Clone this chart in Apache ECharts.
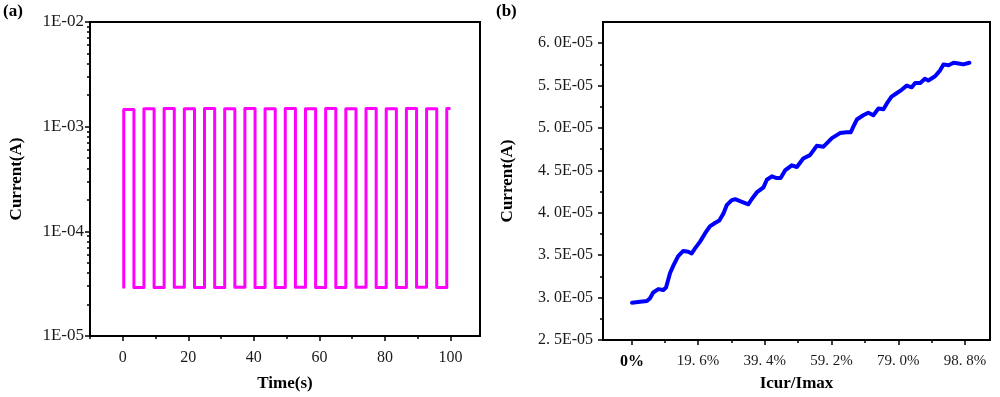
<!DOCTYPE html>
<html><head><meta charset="utf-8">
<script src="https://cdn.jsdelivr.net/npm/echarts@6/dist/echarts.min.js"></script>
<style>html,body{margin:0;padding:0;background:#fff}#c{width:1000px;height:397px}</style>
</head><body><div id="c"></div>
<script>
// ---------- Panel (a): switching current vs time ----------
const riseTimesA = [0.3, 6.46, 12.62, 18.78, 24.94, 31.1, 37.26, 43.42, 49.58, 55.74, 61.9, 68.06, 74.22, 80.38, 86.54, 92.7, 98.86];
const fallTimesA = [3.4, 9.56, 15.72, 21.88, 28.04, 34.2, 40.36, 46.52, 52.68, 58.84, 65.0, 71.16, 77.32, 83.48, 89.64, 95.8];
const endTimeA = 100;
const highCurrentA = [1.46e-3, 1.48e-3, 1.49e-3, 1.48e-3, 1.49e-3, 1.48e-3, 1.49e-3, 1.48e-3, 1.49e-3, 1.48e-3, 1.49e-3, 1.48e-3, 1.49e-3, 1.48e-3, 1.49e-3, 1.48e-3, 1.49e-3];
const lowCurrentA = [2.85e-5, 2.9e-5, 2.9e-5, 2.92e-5, 2.9e-5, 2.9e-5, 2.92e-5, 2.9e-5, 2.9e-5, 2.92e-5, 2.9e-5, 2.9e-5, 2.92e-5, 2.9e-5, 2.9e-5, 2.92e-5, 2.9e-5];
const xTickValuesA = [0, 20, 40, 60, 80, 100];
const xMinorTicksA = [-10, 10, 30, 50, 70, 90];
const yTickValuesA = [1e-5, 1e-4, 1e-3, 1e-2];
const yTickLabelsA = ['1E-05', '1E-04', '1E-03', '1E-02'];
const yMinorFactorsA = [2, 3, 4, 5, 6, 7, 8, 9];

// ---------- Panel (b): current vs Icur/Imax ----------
const ratioB = [0, 2.4, 4.4, 5.3, 6.3, 7.8, 9.3, 10.1, 11.3, 12.3, 13.7, 15.2, 16.7, 17.7, 18.7, 20.2, 21.7, 23.1, 24.6, 25.9, 27.1, 28.1, 29.6, 30.6, 32.6, 34.5, 35.5, 37.0, 39.0, 40.0, 41.5, 42.9, 44.1, 45.4, 47.4, 48.9, 50.8, 52.8, 54.8, 56.8, 59.3, 61.7, 63.7, 64.9, 65.7, 66.7, 68.6, 70.1, 71.6, 73.1, 74.6, 75.6, 77.0, 78.5, 80.0, 81.5, 83.0, 84.0, 85.5, 86.9, 87.9, 89.9, 91.4, 92.4, 93.9, 95.4, 96.9, 98.3, 100.1];
const currentB_e5 = [2.94, 2.95, 2.96, 2.99, 3.06, 3.10, 3.09, 3.12, 3.29, 3.38, 3.49, 3.55, 3.54, 3.52, 3.58, 3.66, 3.76, 3.84, 3.88, 3.91, 3.99, 4.09, 4.15, 4.16, 4.13, 4.10, 4.16, 4.24, 4.30, 4.39, 4.43, 4.41, 4.41, 4.50, 4.56, 4.54, 4.64, 4.68, 4.79, 4.78, 4.88, 4.94, 4.95, 4.95, 5.02, 5.10, 5.15, 5.18, 5.15, 5.23, 5.22, 5.29, 5.37, 5.41, 5.45, 5.50, 5.48, 5.53, 5.53, 5.58, 5.56, 5.61, 5.68, 5.75, 5.74, 5.77, 5.76, 5.75, 5.77];
const xTickValuesB = [0, 19.6, 39.4, 59.2, 79.0, 98.8];
const xTickLabelsB = ['0%', '19. 6%', '39. 4%', '59. 2%', '79. 0%', '98. 8%'];
const xMinorTicksB = [9.8, 29.5, 49.3, 69.1, 88.9];
const yTickValuesB = [2.5, 3.0, 3.5, 4.0, 4.5, 5.0, 5.5, 6.0];
const yTickLabelsB = ['2. 5E-05', '3. 0E-05', '3. 5E-05', '4. 0E-05', '4. 5E-05', '5. 0E-05', '5. 5E-05', '6. 0E-05'];
const yMinorTicksB = [2.75, 3.25, 3.75, 4.25, 4.75, 5.25, 5.75];

// ---------- build series data ----------
const dataA = [];
riseTimesA.forEach((t, i) => {
  dataA.push([t, lowCurrentA[i]]);
  dataA.push([t, highCurrentA[i]]);
  if (i < fallTimesA.length) {
    dataA.push([fallTimesA[i], highCurrentA[i]]);
    dataA.push([fallTimesA[i], lowCurrentA[i + 1]]);
  } else {
    dataA.push([endTimeA, highCurrentA[i]]);
  }
});
const dataB = ratioB.map((x, i) => [x, currentB_e5[i]]);
const yMinorTicksA = [];
yTickValuesA.slice(0, -1).forEach(d => yMinorFactorsA.forEach(f => yMinorTicksA.push(f * d)));

function nearestLabel(v, vals, labels) {
  let best = 0, bd = Infinity;
  vals.forEach((x, i) => { const d = Math.abs(x - v); if (d < bd) { bd = d; best = i; } });
  return labels[best];
}

const black = '#000';
const labelColor = '#1a1a1a';
const serifFont = 'Liberation Serif';
const axisLineStyle = { show: true, onZero: false, lineStyle: { color: black, width: 2 } };
const hiddenLine = { show: false, onZero: false };
const tickStyle = { color: black, width: 1.5 };
const titleStyle = { fontFamily: serifFont, fontWeight: 'bold', fontSize: 17, color: black };

const chart = echarts.init(document.getElementById('c'), null, { renderer: 'canvas' });
chart.setOption({
  animation: false,
  backgroundColor: '#fff',
  grid: [
    { left: 90, right: 520, top: 22, bottom: 57, show: true, borderColor: black, borderWidth: 2, containLabel: false },
    { left: 603, right: 10, top: 22, bottom: 57, show: true, borderColor: black, borderWidth: 2, containLabel: false }
  ],
  xAxis: [
    { gridIndex: 0, type: 'value', min: -10, max: 109, position: 'bottom',
      axisLine: axisLineStyle,
      axisTick: { show: true, inside: false, length: 5, customValues: xTickValuesA, lineStyle: tickStyle },
      axisLabel: { customValues: xTickValuesA, fontFamily: serifFont, fontSize: 16, color: labelColor, margin: 14 },
      splitLine: { show: false },
      name: 'Time(s)', nameLocation: 'middle', nameGap: 39, nameTextStyle: titleStyle },
    { gridIndex: 0, type: 'value', min: -10, max: 109, position: 'bottom',
      axisLine: hiddenLine,
      axisTick: { show: true, inside: false, length: 3, customValues: xMinorTicksA, lineStyle: tickStyle },
      axisLabel: { show: false }, splitLine: { show: false } },
    { gridIndex: 1, type: 'value', min: -8.6, max: 106.2, position: 'bottom',
      axisLine: axisLineStyle,
      axisTick: { show: true, inside: false, length: 5, customValues: xTickValuesB, lineStyle: tickStyle },
      axisLabel: { customValues: xTickValuesB, fontFamily: serifFont, fontSize: 15, color: labelColor, margin: 14,
        formatter: v => { const s = nearestLabel(v, xTickValuesB, xTickLabelsB); return s === '0%' ? '{b|' + s + '}' : s; },
        rich: { b: { fontFamily: serifFont, fontWeight: 'bold', fontSize: 16, color: black } } },
      splitLine: { show: false },
      name: 'Icur/Imax', nameLocation: 'middle', nameGap: 34, nameTextStyle: titleStyle },
    { gridIndex: 1, type: 'value', min: -8.6, max: 106.2, position: 'bottom',
      axisLine: hiddenLine,
      axisTick: { show: true, inside: false, length: 3, customValues: xMinorTicksB, lineStyle: tickStyle },
      axisLabel: { show: false }, splitLine: { show: false } }
  ],
  yAxis: [
    { gridIndex: 0, type: 'log', logBase: 10, min: 1e-5, max: 1e-2, position: 'left',
      axisLine: axisLineStyle,
      axisTick: { show: true, inside: false, length: 5, customValues: yTickValuesA, lineStyle: tickStyle },
      axisLabel: { customValues: yTickValuesA, fontFamily: serifFont, fontSize: 17, color: labelColor, margin: 6,
        formatter: v => nearestLabel(Math.log10(v), yTickValuesA.map(Math.log10), yTickLabelsA) },
      splitLine: { show: false },
      name: 'Current(A)', nameLocation: 'middle', nameGap: 65, nameRotate: 90, nameTextStyle: titleStyle },
    { gridIndex: 0, type: 'log', logBase: 10, min: 1e-5, max: 1e-2, position: 'left',
      axisLine: hiddenLine,
      axisTick: { show: true, inside: false, length: 3, customValues: yMinorTicksA, lineStyle: tickStyle },
      axisLabel: { show: false }, splitLine: { show: false } },
    { gridIndex: 1, type: 'value', min: 2.5, max: 6.25, position: 'left',
      axisLine: axisLineStyle,
      axisTick: { show: true, inside: false, length: 5, customValues: yTickValuesB, lineStyle: tickStyle },
      axisLabel: { customValues: yTickValuesB, fontFamily: serifFont, fontSize: 16, color: labelColor, margin: 10,
        formatter: v => nearestLabel(v, yTickValuesB, yTickLabelsB) },
      splitLine: { show: false },
      name: 'Current(A)', nameLocation: 'middle', nameGap: 87, nameRotate: 90, nameTextStyle: titleStyle },
    { gridIndex: 1, type: 'value', min: 2.5, max: 6.25, position: 'left',
      axisLine: hiddenLine,
      axisTick: { show: true, inside: false, length: 3, customValues: yMinorTicksB, lineStyle: tickStyle },
      axisLabel: { show: false }, splitLine: { show: false } }
  ],
  series: [
    { type: 'line', xAxisIndex: 0, yAxisIndex: 0, data: dataA, showSymbol: false, symbol: 'none',
      lineStyle: { color: '#ff00ff', width: 3, join: 'round' } },
    { type: 'line', xAxisIndex: 2, yAxisIndex: 2, data: dataB, showSymbol: false, symbol: 'none',
      lineStyle: { color: '#0000ff', width: 4, join: 'round', cap: 'round' } }
  ],
  graphic: [
    { type: 'text', left: 3, top: 3, style: { text: '(a)', font: 'bold 17px "Liberation Serif"', fill: black } },
    { type: 'text', left: 496, top: 3, style: { text: '(b)', font: 'bold 17px "Liberation Serif"', fill: black } }
  ]
});
</script>
</body></html>
